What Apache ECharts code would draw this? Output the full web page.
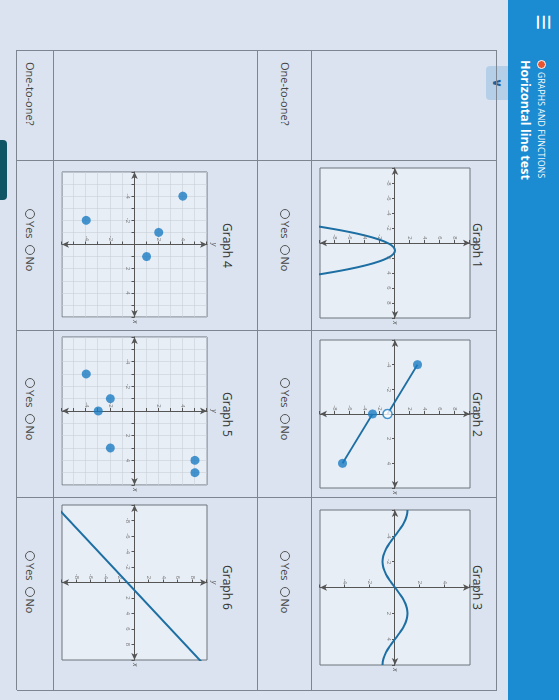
<!DOCTYPE html>
<html>
<head>
<meta charset="utf-8">
<script src="https://cdn.jsdelivr.net/npm/echarts@6/dist/echarts.min.js"></script>
<style>
  html, body { margin: 0; padding: 0; width: 559px; height: 700px; overflow: hidden; background: #d9e2ee; }
  #page { position: absolute; left: 0; top: 0; width: 700px; height: 559px;
          transform-origin: 0 0; transform: translateX(559px) rotate(90deg);
          background: #dae3ef; font-family: "Open Sans", "DejaVu Sans", sans-serif; color: #333; }
  #header { position: absolute; left: 0; top: 0; width: 700px; height: 51px; background: #1b8bd2; color: #fff; }
  .abs { position: absolute; white-space: nowrap; }
  .hline { position: absolute; height: 1px; background: #7c8590; }
  .vline { position: absolute; width: 1px; background: #7c8590; }
  .glabel { font-size: 12px; color: #333; }
  .q { font-size: 11px; color: #444; }
  .radio { font-size: 11px; color: #444; }
  .radio span { display: inline-block; width: 8px; height: 8px; border: 1px solid #555; border-radius: 50%; vertical-align: -1px; margin: 0 2px 0 6px; }
  #chart { position: absolute; left: 0; top: 0; width: 700px; height: 559px; }
</style>
</head>
<body>
<div id="page">
  <div id="header">
    <div class="abs" style="left:14px;top:3px;font-size:18px;">&#9776;</div>
    <div class="abs" style="left:60px;top:12px;font-size:8.5px;letter-spacing:0.2px;">
      <span style="display:inline-block;width:7px;height:7px;border-radius:50%;background:#e8542f;border:1.5px solid #fff;vertical-align:-1px;margin-right:3px;"></span>GRAPHS AND FUNCTIONS</div>
    <div class="abs" style="left:60px;top:25px;font-size:12.5px;font-weight:bold;">Horizontal line test</div>
  </div>
  <div class="abs" style="left:66px;top:51px;width:34px;height:22px;background:#b6cfe8;border-radius:0 0 4px 4px;color:#1f5f99;font-size:13px;text-align:center;line-height:20px;font-weight:bold;">&#8744;</div>
  <div class="abs" style="left:140px;top:552px;width:60px;height:10px;background:#0f5566;border-radius:4px;"></div>

  <!-- table lines -->
  <div class="hline" style="left:50px;top:62px;width:640px;"></div>
  <div class="hline" style="left:50px;top:247px;width:640px;"></div>
  <div class="hline" style="left:50px;top:301px;width:640px;"></div>
  <div class="hline" style="left:50px;top:505px;width:640px;"></div>
  <div class="hline" style="left:50px;top:542px;width:640px;"></div>
  <div class="vline" style="left:50px;top:62px;height:480px;"></div>
  <div class="vline" style="left:160px;top:62px;height:480px;"></div>
  <div class="vline" style="left:330px;top:62px;height:480px;"></div>
  <div class="vline" style="left:497px;top:62px;height:480px;"></div>
  <div class="vline" style="left:690px;top:62px;height:480px;"></div>

  <div class="abs glabel" style="left:223px;top:73px;">Graph 1</div>
  <div class="abs glabel" style="left:392px;top:73px;">Graph 2</div>
  <div class="abs glabel" style="left:565px;top:73px;">Graph 3</div>
  <div class="abs glabel" style="left:223px;top:323px;">Graph 4</div>
  <div class="abs glabel" style="left:392px;top:323px;">Graph 5</div>
  <div class="abs glabel" style="left:565px;top:323px;">Graph 6</div>

  <div class="abs q" style="left:62px;top:266px;">One-to-one?</div>
  <div class="abs q" style="left:62px;top:521px;">One-to-one?</div>
  <div class="abs radio" style="left:203px;top:266px;"><span></span>Yes<span></span>No</div>
  <div class="abs radio" style="left:372px;top:266px;"><span></span>Yes<span></span>No</div>
  <div class="abs radio" style="left:545px;top:266px;"><span></span>Yes<span></span>No</div>
  <div class="abs radio" style="left:203px;top:521px;"><span></span>Yes<span></span>No</div>
  <div class="abs radio" style="left:372px;top:521px;"><span></span>Yes<span></span>No</div>
  <div class="abs radio" style="left:545px;top:521px;"><span></span>Yes<span></span>No</div>

  <div id="chart"></div>
</div>
<script>
// graph 1: downward parabola
const parabola = [[-2.2,-10.24],[-2,-9],[-1.5,-6.25],[-1,-4],[-0.5,-2.25],[0,-1],[0.5,-0.25],[1,0],
  [1.5,-0.25],[2,-1],[2.5,-2.25],[3,-4],[3.5,-6.25],[4,-9],[4.2,-10.24]];
// graph 2: two segments
const segUpper = [[-4,3],[0,-1]];
const segLower = [[0,-3],[4,-7]];
const closedPts2 = [[-4,3],[0,-3],[4,-7]];
const openPts2 = [[0,-1]];
// graph 3: wave
const wave = [[-6,1],[-5.5,0.92],[-5,0.71],[-4.5,0.38],[-4,0],[-3.5,-0.38],[-3,-0.71],[-2.5,-0.92],[-2,-1],
  [-1.5,-0.92],[-1,-0.71],[-0.5,-0.38],[0,0],[0.5,0.38],[1,0.71],[1.5,0.92],[2,1],[2.5,0.92],[3,0.71],
  [3.5,0.38],[4,0],[4.5,-0.38],[5,-0.71],[5.5,-0.92],[6,-1]];
// graph 4, 5: points
const pts4 = [[-4,4],[-2,-4],[-1,2],[1,1]];
const pts5 = [[-3,-4],[-1,-2],[0,-3],[3,-2],[4,5],[5,5]];
// graph 6: line
const line6 = [[-10,-11],[11,10]];

// axis extents and tick labels per graph
const xMax = [10, 6, 6, 6, 6, 10];
const yMax = [10, 10, 6, 6, 6, 10];
const tickStep = [2, 2, 2, 1, 1, 2];
const xTickLabels = [[-8,-6,-4,-2,2,4,6,8],[-4,-2,2,4],[-4,-2,2,4],[-4,-2,2,4],[-4,-2,2,4],[-8,-6,-4,-2,2,4,6,8]];
const yTickLabels = [[-8,-6,-4,-2,2,4,6,8],[-8,-6,-4,-2,2,4,6,8],[-4,-2,2,4],[-4,-2,2,4],[-4,-2,2,4],[-8,-6,-4,-2,2,4,6,8]];

const boxes = [[168,89,150,150],[340,89,148,150],[510,89,155,150],
               [172,352,145,145],[337,352,148,145],[505,352,155,145]];

const blue = '#1d6fa3', dot = '#1a7cc3';

function axis(kind, i) {
  const m = kind === 'x' ? xMax[i] : yMax[i];
  const grid = i === 3 || i === 4;
  return {
    type: 'value', gridIndex: i, min: -m, max: m, interval: tickStep[i],
    name: kind, nameGap: 3,
    nameTextStyle: { fontSize: 7, color: '#555', fontStyle: 'italic' },
    axisLine: { onZero: true, symbol: ['arrow', 'arrow'], symbolSize: [5, 7], lineStyle: { color: '#555', width: 1 } },
    axisTick: { show: true, length: 3, lineStyle: { color: '#555' } },
    axisLabel: { show: false },
    splitLine: { show: grid, lineStyle: { color: '#c9d0d8', width: 0.6 } }
  };
}

// tick labels drawn beside the zero axes
function tickLabels(i) {
  const data = xTickLabels[i].map(v => [v, 0, v, 'bottom'])
    .concat(yTickLabels[i].map(v => [0, v, v, 'left']));
  return {
    type: 'scatter', xAxisIndex: i, yAxisIndex: i, symbolSize: 1, silent: true, z: 6,
    itemStyle: { color: 'rgba(0,0,0,0)' },
    data: data.map(d => ({ value: [d[0], d[1]],
      label: { show: true, position: d[3], distance: 3, formatter: String(d[2]), fontSize: 6, color: '#666' } }))
  };
}

const chart = echarts.init(document.getElementById('chart'));
const grids = boxes.map(b => ({ left: b[0], top: b[1], width: b[2], height: b[3], show: true,
  borderColor: '#6d747c', borderWidth: 1, backgroundColor: '#e8eef6' }));
const lineStyle = { color: blue, width: 2 };
const scat = (gi, data, open) => ({ type: 'scatter', xAxisIndex: gi, yAxisIndex: gi, data, symbolSize: 9, z: 5,
  itemStyle: open ? { color: '#fff', borderColor: dot, borderWidth: 1.5 } : { color: dot } });

chart.setOption({
  animation: false,
  grid: grids,
  xAxis: boxes.map((b, i) => axis('x', i)),
  yAxis: boxes.map((b, i) => axis('y', i)),
  series: [
    { type: 'line', xAxisIndex: 0, yAxisIndex: 0, data: parabola, smooth: true, showSymbol: false, lineStyle, clip: true },
    { type: 'line', xAxisIndex: 1, yAxisIndex: 1, data: segUpper, showSymbol: false, lineStyle },
    { type: 'line', xAxisIndex: 1, yAxisIndex: 1, data: segLower, showSymbol: false, lineStyle },
    scat(1, closedPts2, false),
    scat(1, openPts2, true),
    { type: 'line', xAxisIndex: 2, yAxisIndex: 2, data: wave, smooth: true, showSymbol: false, lineStyle },
    scat(3, pts4, false),
    scat(4, pts5, false),
    { type: 'line', xAxisIndex: 5, yAxisIndex: 5, data: line6, showSymbol: false, lineStyle, clip: true }
  ].concat(boxes.map((b, i) => tickLabels(i)))
});
</script>
</body>
</html>
